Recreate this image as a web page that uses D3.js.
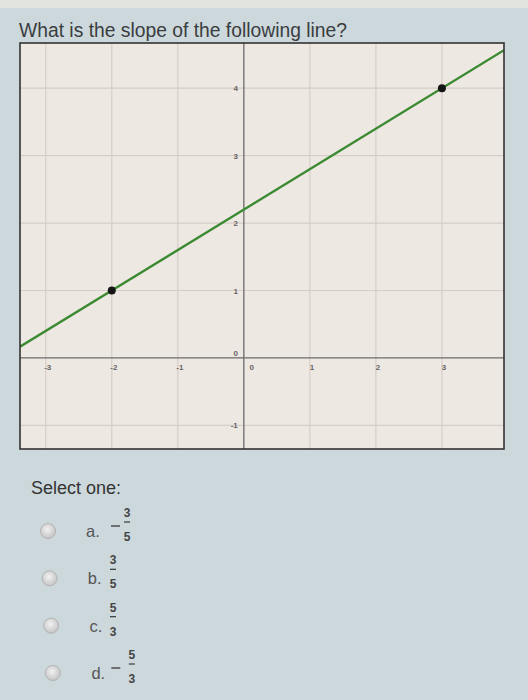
<!DOCTYPE html>
<html>
<head>
<meta charset="utf-8">
<script src="https://cdn.jsdelivr.net/npm/d3@7"></script>
<style>
body{margin:0;background:#ccd8dc;}
svg{display:block;}
</style>
</head>
<body>
<svg id="svg_canvas" width="528" height="700"></svg>
<script>

// data
var title_text="What is the slope of the following line?";
var x_ticks=[-3,-2,-1,0,1,2,3];
var y_ticks=[-1,0,1,2,3,4];
var x_points=[-2,3];
var y_points=[1,4];
var option_letters=["a.","b.","c.","d."];
var option_signs=["-","","","-"];
var option_num=[3,3,5,5];
var option_den=[5,5,3,3];

var svg=d3.select("#svg_canvas");

// page background, a bit lighter at the top strip like the photo
svg.append("rect").attr("x",0).attr("y",0).attr("width",528).attr("height",700).attr("fill","#ccd8dc");
svg.append("rect").attr("x",0).attr("y",0).attr("width",528).attr("height",8).attr("fill","#e2e4e0");

svg.append("text")
	.attr("x",19).attr("y",37)
	.attr("font-family","Liberation Sans, Arial, sans-serif")
	.attr("font-size",19.3)
	.attr("fill","#3a3d3f")
	.text(title_text);

var left_x=20, right_x=504, top_y=43, bottom_y=449;

var x=d3.scaleLinear().domain([-3.39,3.94]).range([left_x,right_x]);
var y=d3.scaleLinear().domain([-1.35,4.67]).range([bottom_y,top_y]);

var plot=svg.append("g");

plot.append("rect")
	.attr("x",left_x).attr("y",top_y)
	.attr("width",right_x-left_x).attr("height",bottom_y-top_y)
	.attr("fill","#eee8e3");

// grid
plot.selectAll("line.vgrid").data(x_ticks.filter(function(d){return d!=0;}))
	.enter().append("line").attr("class","vgrid")
		.attr("x1",function(d){return x(d);}).attr("x2",function(d){return x(d);})
		.attr("y1",top_y).attr("y2",bottom_y)
		.attr("stroke","#d6cdc7").attr("stroke-width",1.2);

plot.selectAll("line.hgrid").data(y_ticks.filter(function(d){return d!=0;}))
	.enter().append("line").attr("class","hgrid")
		.attr("y1",function(d){return y(d);}).attr("y2",function(d){return y(d);})
		.attr("x1",left_x).attr("x2",right_x)
		.attr("stroke","#d6cdc7").attr("stroke-width",1.2);

// axes
plot.append("line").attr("x1",x(0)).attr("x2",x(0)).attr("y1",top_y).attr("y2",bottom_y)
	.attr("stroke","#6b6b6b").attr("stroke-width",1.3);
plot.append("line").attr("y1",y(0)).attr("y2",y(0)).attr("x1",left_x).attr("x2",right_x)
	.attr("stroke","#6b6b6b").attr("stroke-width",1.3);

// tick labels
plot.selectAll("text.xlab").data(x_ticks)
	.enter().append("text").attr("class","xlab")
		.attr("x",function(d){return d==0 ? x(d)+8 : x(d)+2;})
		.attr("y",y(0)+12)
		.attr("text-anchor","middle")
		.attr("font-family","Liberation Sans, Arial, sans-serif")
		.attr("font-size",8).attr("font-weight","bold")
		.attr("fill","#666")
		.text(function(d){return d;});

plot.selectAll("text.ylab").data(y_ticks)
	.enter().append("text").attr("class","ylab")
		.attr("x",x(0)-6)
		.attr("y",function(d){return d==0 ? y(d)-2 : y(d)+3;})
		.attr("text-anchor","end")
		.attr("font-family","Liberation Sans, Arial, sans-serif")
		.attr("font-size",8).attr("font-weight","bold")
		.attr("fill","#666")
		.text(function(d){return d;});

// the line through the two points, run out to the box edges
var slope=(y_points[1]-y_points[0])/(x_points[1]-x_points[0]);
var x_ends=x.domain();
var y_ends=x_ends.map(function(d){return y_points[0]+slope*(d-x_points[0]);});

svg.append("clipPath").attr("id","plot_clip")
	.append("rect").attr("x",left_x).attr("y",top_y).attr("width",right_x-left_x).attr("height",bottom_y-top_y);

plot.append("line")
	.attr("clip-path","url(#plot_clip)")
	.attr("x1",x(x_ends[0])).attr("y1",y(y_ends[0]))
	.attr("x2",x(x_ends[1])).attr("y2",y(y_ends[1]))
	.attr("stroke","#3b8a32").attr("stroke-width",2.4);

plot.selectAll("circle.pt").data(x_points)
	.enter().append("circle").attr("class","pt")
		.attr("cx",function(d){return x(d);})
		.attr("cy",function(d,i){return y(y_points[i]);})
		.attr("r",4)
		.attr("fill","#151515");

plot.append("rect")
	.attr("x",left_x).attr("y",top_y)
	.attr("width",right_x-left_x).attr("height",bottom_y-top_y)
	.attr("fill","none").attr("stroke","#333").attr("stroke-width",1.6);

// answers
svg.append("text")
	.attr("x",31).attr("y",494)
	.attr("font-family","Liberation Sans, Arial, sans-serif")
	.attr("font-size",18)
	.attr("fill","#333")
	.text("Select one:");

var defs=svg.append("defs");
var grad=defs.append("radialGradient").attr("id","radio_grad").attr("cx","45%").attr("cy","40%").attr("r","60%");
grad.append("stop").attr("offset","0%").attr("stop-color","#f2f2f2");
grad.append("stop").attr("offset","100%").attr("stop-color","#c4c4c4");

var option_y=d3.scaleLinear().domain([0,3]).range([531,673]);

var opt=svg.selectAll("g.option").data(option_letters)
	.enter().append("g").attr("class","option")
		.attr("transform",function(d,i){return "translate(0,"+option_y(i)+")";});

opt.append("circle")
	.attr("cx",function(d,i){return 48+i*1.6;}).attr("cy",0).attr("r",7.5)
	.attr("fill","url(#radio_grad)").attr("stroke","#b3b3b3").attr("stroke-width",1);

opt.append("text")
	.attr("x",function(d,i){return 86+i*1.8;}).attr("y",6)
	.attr("font-family","Liberation Sans, Arial, sans-serif")
	.attr("font-size",16.5)
	.attr("fill","#555")
	.text(function(d){return d;});

// fractions: sign, numerator, bar, denominator
var frac_x=function(d,i){return option_signs[i]=="-" ? 127+i*1.6 : 113;};

opt.filter(function(d,i){return option_signs[i]=="-";}).append("line")
	.attr("x1",function(d,i){return 111+i*0.3;}).attr("x2",function(d,i){return 120+i*0.3;})
	.attr("y1",-5).attr("y2",-5)
	.attr("stroke","#444").attr("stroke-width",1.4);

opt.append("text")
	.attr("x",function(d,i){return frac_x(d,i);}).attr("y",-14)
	.attr("text-anchor","middle")
	.attr("font-family","Liberation Sans, Arial, sans-serif")
	.attr("font-size",12).attr("font-weight","bold")
	.attr("fill","#444")
	.text(function(d,i){return option_num[i];});

opt.append("line")
	.attr("x1",function(d,i){return frac_x(d,i)-3;}).attr("x2",function(d,i){return frac_x(d,i)+3;})
	.attr("y1",-9).attr("y2",-9)
	.attr("stroke","#444").attr("stroke-width",1.3);

opt.append("text")
	.attr("x",function(d,i){return frac_x(d,i);}).attr("y",10)
	.attr("text-anchor","middle")
	.attr("font-family","Liberation Sans, Arial, sans-serif")
	.attr("font-size",12).attr("font-weight","bold")
	.attr("fill","#444")
	.text(function(d,i){return option_den[i];});

</script>
</body>
</html>
